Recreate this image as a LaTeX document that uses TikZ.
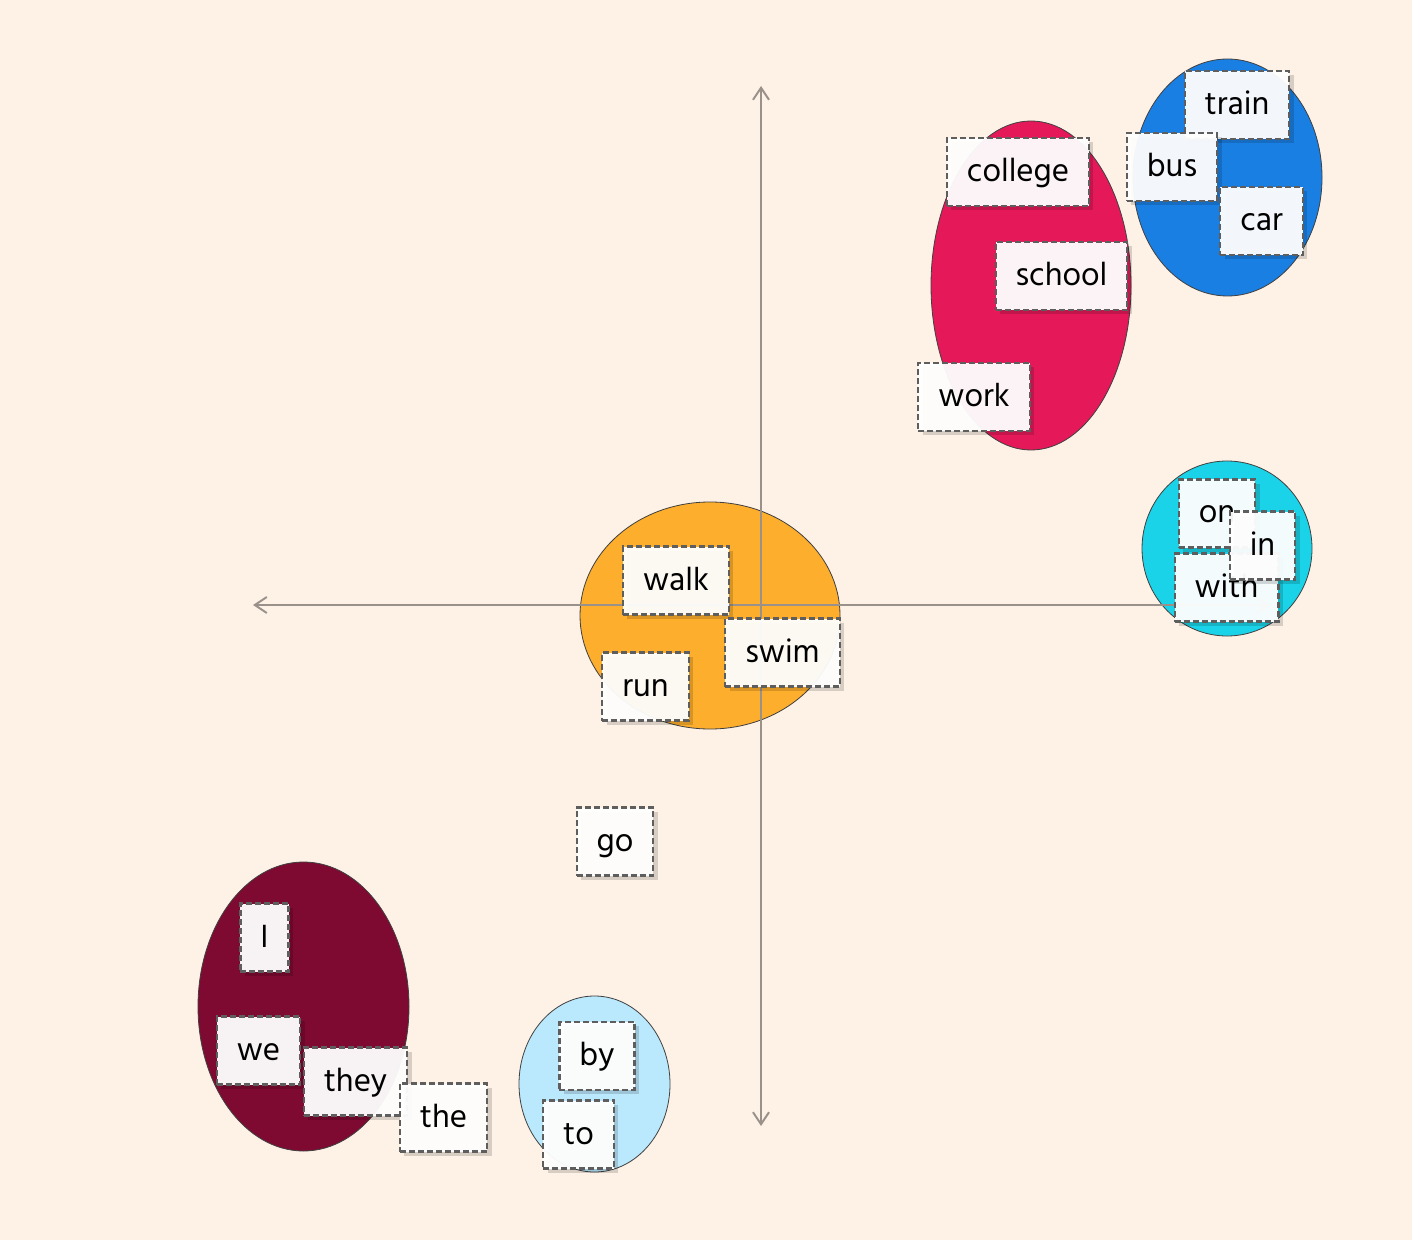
\documentclass[tikz,border=0pt]{standalone}
\usepackage{fontspec}
\setmainfont{Hind Madurai}
\usetikzlibrary{arrows.meta,shadows}
\definecolor{paper}{HTML}{FEF1E6}
\definecolor{axisgray}{HTML}{9A918B}
\definecolor{boxline}{HTML}{5E5E5E}
\definecolor{placered}{HTML}{E5195A}
\definecolor{ridesblue}{HTML}{1A7FE3}
\definecolor{prepcyan}{HTML}{1AD3E8}
\definecolor{verborange}{HTML}{FDAE2C}
\definecolor{pronmaroon}{HTML}{7E0A31}
\definecolor{smallblue}{HTML}{BAE8FD}

\begin{document}
\begin{tikzpicture}[x=0.5pt,y=-0.5pt,
		word/.style={draw=boxline,dash pattern=on 3pt off 1.5pt,line width=1.1pt,
			fill=white,fill opacity=.95,text opacity=1,minimum height=34pt,inner xsep=10pt,
			text height=9.5pt,text depth=0pt,font=\fontsize{16.5}{20}\selectfont,
			drop shadow={shadow xshift=2.2pt,shadow yshift=-2.2pt,fill=black,opacity=.15}},
		blob/.style={draw=black!75,line width=.4pt},
		axis/.style={draw=axisgray,line width=1pt,
			{Straight Barb[length=6pt,width=8pt]}-{Straight Barb[length=6pt,width=8pt]}}]
		\fill [paper] (0,0) rectangle (1412,1240);
		\useasboundingbox (0,0) rectangle (1412,1240);
		\draw [blob,fill=placered] (1031,285.5) ellipse [x radius=100,y radius=164.5];
		\draw [blob,fill=ridesblue] (1227.5,177.5) ellipse [x radius=94.5,y radius=118.5];
		\draw [blob,fill=prepcyan] (1227,548.5) ellipse [x radius=85,y radius=87.5];
		\draw [blob,fill=verborange] (710,615.5) ellipse [x radius=130,y radius=113.5];
		\draw [blob,fill=pronmaroon] (303.5,1006.5) ellipse [x radius=105.5,y radius=144.5];
		\draw [blob,fill=smallblue] (594.5,1084) ellipse [x radius=75.5,y radius=88];
		\coordinate (ytop) at (761,86);
		\coordinate (ybottom) at (761,1126);
		\coordinate (xleft) at (253,605);
		\coordinate (xright) at (1270,605);
		\draw [axis] (ybottom) -- (ytop);
		\draw [axis] (xright) -- (xleft);
		\node [word] (w-college) at (1018,172) {college};
		\node [word] (w-school) at (1061.5,276) {school};
		\node [word] (w-work) at (974,397) {work};
		\node [word] (w-train) at (1237,105) {train};
		\node [word] (w-bus) at (1172,167) {bus};
		\node [word] (w-car) at (1261.5,221) {car};
		\node [word] (w-on) at (1217,513.5) {on};
		\node [word] (w-with) at (1226.5,587.5) {with};
		\node [word] (w-in) at (1262.5,545.5) {in};
		\node [word] (w-walk) at (676,580.5) {walk};
		\node [word] (w-swim) at (782.5,652.5) {swim};
		\node [word] (w-run) at (645.5,686.5) {run};
		\node [word] (w-go) at (615,841.5) {go};
		\node [word] (w-I) at (264.5,937.5) {I};
		\node [word] (w-we) at (258.5,1050.5) {we};
		\node [word] (w-they) at (355.5,1081.5) {they};
		\node [word] (w-the) at (443.5,1117.5) {the};
		\node [word] (w-by) at (597,1056) {by};
		\node [word] (w-to) at (578.5,1134.5) {to};
	\end{tikzpicture}
\end{document}
